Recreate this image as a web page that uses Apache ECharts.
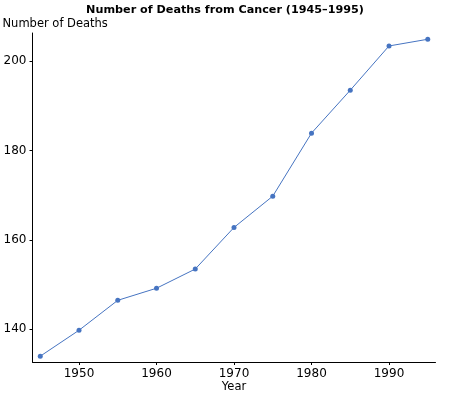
<!DOCTYPE html>
<html>
<head>
<meta charset="utf-8">
<script src="https://cdn.jsdelivr.net/npm/echarts@6/dist/echarts.min.js"></script>
<style>
  html, body { margin: 0; padding: 0; background: #fff; }
  #chart { width: 450px; height: 397px; }
</style>
</head>
<body>
<div id="chart"></div>
<script>
// data
var years = [1945, 1950, 1955, 1960, 1965, 1970, 1975, 1980, 1985, 1990, 1995];
var deaths = [134.0, 139.8, 146.5, 149.2, 153.5, 162.8, 169.8, 183.9, 193.5, 203.4, 204.9];
var xTicks = [1950, 1960, 1970, 1980, 1990];
var yTicks = [140, 160, 180, 200];

var chart = echarts.init(document.getElementById('chart'));

var points = [];
for (var i = 0; i < years.length; i++) {
    points.push([years[i], deaths[i]]);
}

var font = 'DejaVu Sans';

var option = {
    animation: false,
    title: {
        text: 'Number of Deaths from Cancer (1945\u20131995)',
        left: 'center',
        top: 0,
        textStyle: { fontFamily: font, fontSize: 11.2, fontWeight: 'bold', color: '#000' }
    },
    grid: {
        left: 32.5,
        right: 14.5,
        top: 33,
        bottom: 35,
        containLabel: false,
        outerBoundsMode: 'none'
    },
    xAxis: {
        type: 'value',
        min: 1944,
        max: 1996,
        name: 'Year',
        nameLocation: 'middle',
        nameGap: 19,
        nameMoveOverlap: false,
        nameTextStyle: { fontFamily: font, fontSize: 11.5, color: '#000' },
        axisLine: { lineStyle: { color: '#000', width: 1 } },
        axisTick: { show: true, length: 3, customValues: xTicks, lineStyle: { color: '#000' } },
        axisLabel: {
            customValues: xTicks, margin: 6, fontFamily: font, fontSize: 12, color: '#000',
            formatter: function (v) { return String(v); }
        },
        splitLine: { show: false }
    },
    yAxis: {
        type: 'value',
        min: 132.7,
        max: 206.3,
        name: 'Number of Deaths',
        nameLocation: 'end',
        nameGap: 3,
        nameTextStyle: { fontFamily: font, fontSize: 11.5, color: '#000', align: 'left', padding: [0, 0, 0, -30] },
        axisLine: { show: true, lineStyle: { color: '#000', width: 1 } },
        axisTick: { show: true, length: 3, customValues: yTicks, lineStyle: { color: '#000' } },
        axisLabel: { customValues: yTicks, margin: 6, fontFamily: font, fontSize: 12, color: '#000' },
        splitLine: { show: false }
    },
    series: [
        {
            type: 'line',
            data: points,
            symbol: 'circle',
            symbolSize: 5,
            lineStyle: { color: '#4674c1', width: 1 },
            itemStyle: { color: '#4674c1' }
        }
    ]
};

chart.setOption(option);
</script>
</body>
</html>
